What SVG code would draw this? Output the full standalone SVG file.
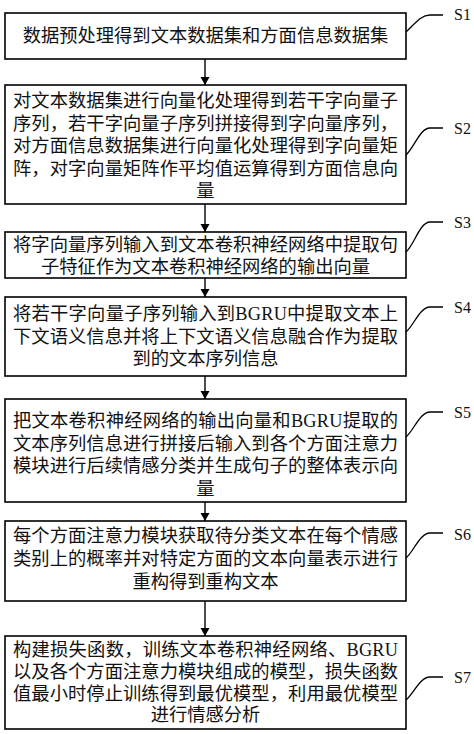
<svg xmlns="http://www.w3.org/2000/svg" width="474" height="734" viewBox="0 0 474 734">
<defs>
<marker id="ah" viewBox="0 0 8 10" refX="8" refY="5" markerWidth="8" markerHeight="10" markerUnits="userSpaceOnUse" orient="auto">
<path d="M0,0.5 L8,5 L0,9.5 Z" fill="#000"/>
</marker>
<style>
.box{fill:#fff;stroke:#000;stroke-width:1.6}
.t{font-family:"Liberation Serif","Noto Sans CJK SC",serif;font-size:18.3px;fill:#111}
.c{text-anchor:middle}
.lab{font-family:"Liberation Serif","Times New Roman",serif;font-size:16px;fill:#111}
.ld{fill:none;stroke:#000;stroke-width:1.3}
.ar{stroke:#000;stroke-width:1.4;marker-end:url(#ah)}
</style>
</defs>
<rect width="474" height="734" fill="#fff"/>

<g id="connectors">
<line class="ar" x1="205" y1="59" x2="205" y2="85"/>
<line class="ar" x1="205" y1="204" x2="205" y2="232"/>
<line class="ar" x1="205" y1="278" x2="205" y2="297"/>
<line class="ar" x1="205" y1="376" x2="205" y2="399"/>
<line class="ar" x1="205" y1="502" x2="205" y2="521"/>
<line class="ar" x1="205" y1="601" x2="205" y2="636"/>
</g>

<g id="S1">
<rect class="box" x="5" y="13" width="401" height="46"/>
<text class="t c" x="205.5" y="42">数据预处理得到文本数据集和方面信息数据集</text>
<path class="ld" d="M406,32 C414,25 420,15 430,15 H443"/>
<text class="lab" x="454" y="20">S1</text>
</g>

<g id="S2">
<rect class="box" x="5" y="85" width="401" height="119"/>
<text class="t" x="13" y="107" textLength="385" lengthAdjust="spacing">对文本数据集进行向量化处理得到若干字向量子</text>
<text class="t" x="13" y="129.6" textLength="385" lengthAdjust="spacing">序列，若干字向量子序列拼接得到字向量序列，</text>
<text class="t" x="13" y="152.2" textLength="385" lengthAdjust="spacing">对方面信息数据集进行向量化处理得到字向量矩</text>
<text class="t" x="13" y="174.8" textLength="385" lengthAdjust="spacing">阵，对字向量矩阵作平均值运算得到方面信息向</text>
<text class="t c" x="205.5" y="197.4">量</text>
<path class="ld" d="M406,155 C414,148 420,128 430,128 H443"/>
<text class="lab" x="454" y="134">S2</text>
</g>

<g id="S3">
<rect class="box" x="5" y="232" width="401" height="46"/>
<text class="t" x="13" y="250.5" textLength="385" lengthAdjust="spacing">将字向量序列输入到文本卷积神经网络中提取句</text>
<text class="t c" x="205.5" y="273">子特征作为文本卷积神经网络的输出向量</text>
<path class="ld" d="M406,252 C414,245 420,222 430,222 H443"/>
<text class="lab" x="454" y="228">S3</text>
</g>

<g id="S4">
<rect class="box" x="5" y="297" width="401" height="79"/>
<text class="t" x="13" y="320" textLength="385" lengthAdjust="spacing">将若干字向量子序列输入到BGRU中提取文本上</text>
<text class="t" x="13" y="342.7" textLength="385" lengthAdjust="spacing">下文语义信息并将上下文语义信息融合作为提取</text>
<text class="t c" x="205.5" y="365.4">到的文本序列信息</text>
<path class="ld" d="M406,332 C414,325 420,307 430,307 H443"/>
<text class="lab" x="454" y="313">S4</text>
</g>

<g id="S5">
<rect class="box" x="5" y="399" width="401" height="103"/>
<text class="t" x="13" y="427" textLength="385" lengthAdjust="spacing">把文本卷积神经网络的输出向量和BGRU提取的</text>
<text class="t" x="13" y="449.7" textLength="385" lengthAdjust="spacing">文本序列信息进行拼接后输入到各个方面注意力</text>
<text class="t" x="13" y="472.4" textLength="385" lengthAdjust="spacing">模块进行后续情感分类并生成句子的整体表示向</text>
<text class="t c" x="205.5" y="495">量</text>
<path class="ld" d="M406,437 C414,430 420,412 430,412 H443"/>
<text class="lab" x="454" y="418">S5</text>
</g>

<g id="S6">
<rect class="box" x="5" y="521" width="401" height="80"/>
<text class="t" x="13" y="542" textLength="385" lengthAdjust="spacing">每个方面注意力模块获取待分类文本在每个情感</text>
<text class="t" x="13" y="565" textLength="385" lengthAdjust="spacing">类别上的概率并对特定方面的文本向量表示进行</text>
<text class="t c" x="205.5" y="588">重构得到重构文本</text>
<path class="ld" d="M406,558 C414,551 420,533 430,533 H443"/>
<text class="lab" x="454" y="540">S6</text>
</g>

<g id="S7">
<rect class="box" x="5" y="636" width="401" height="93"/>
<text class="t" x="13" y="656" textLength="385" lengthAdjust="spacing">构建损失函数，训练文本卷积神经网络、BGRU</text>
<text class="t" x="13" y="677.7" textLength="385" lengthAdjust="spacing">以及各个方面注意力模块组成的模型，损失函数</text>
<text class="t" x="13" y="699.5" textLength="385" lengthAdjust="spacing">值最小时停止训练得到最优模型，利用最优模型</text>
<text class="t c" x="205.5" y="721">进行情感分析</text>
<path class="ld" d="M406,700 C414,693 420,677 430,677 H443"/>
<text class="lab" x="454" y="683">S7</text>
</g>
</svg>
